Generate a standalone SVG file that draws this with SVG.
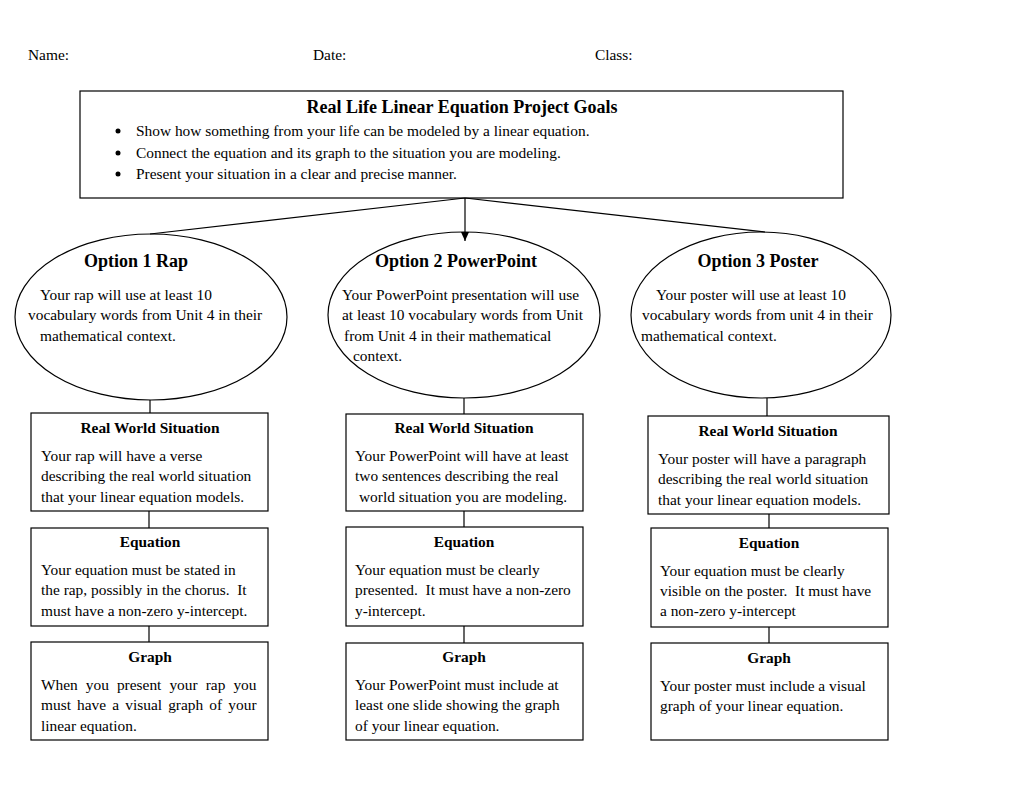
<svg xmlns="http://www.w3.org/2000/svg" width="1024" height="791" viewBox="0 0 1024 791">
<style>
text{font-family:"Liberation Serif","Times New Roman",serif;fill:#000;white-space:pre}
.b{font-size:15.4px}
.h{font-size:15.4px;font-weight:bold;text-anchor:middle}
.t{font-size:18px;font-weight:bold}
.box{fill:#fff;stroke:#000;stroke-width:1.2}
.ln{stroke:#000;stroke-width:1.2;fill:none}
</style>
<defs>
<marker id="arr" markerWidth="10" markerHeight="10" refX="9" refY="5" orient="auto" markerUnits="userSpaceOnUse">
<path d="M0,1 L9,5 L0,9 z" fill="#000"/>
</marker>
</defs>
<rect width="1024" height="791" fill="#fff"/>
<g id="header">
<text class="b" x="28" y="60">Name:</text>
<text class="b" x="313" y="60">Date:</text>
<text class="b" x="595" y="60">Class:</text>
</g>
<g id="goals">
<rect class="box" x="80" y="91" width="763" height="107"/>
<text class="t" x="462" y="113" text-anchor="middle">Real Life Linear Equation Project Goals</text>
<circle cx="118" cy="131" r="2.5"/>
<circle cx="118" cy="153" r="2.5"/>
<circle cx="118" cy="174" r="2.5"/>
<text class="b" x="136" y="136">Show how something from your life can be modeled by a linear equation.</text>
<text class="b" x="136" y="158">Connect the equation and its graph to the situation you are modeling.</text>
<text class="b" x="136" y="179">Present your situation in a clear and precise manner.</text>
</g>
<g id="option1">
<ellipse class="box" cx="151" cy="317" rx="136" ry="83"/>
<text class="t" x="136" y="267" text-anchor="middle">Option 1 Rap</text>
<text class="b" x="40" y="300">Your rap will use at least 10</text>
<text class="b" x="28" y="320">vocabulary words from Unit 4 in their</text>
<text class="b" x="40" y="341">mathematical context.</text>
</g>
<g id="option2">
<ellipse class="box" cx="464" cy="315" rx="136" ry="83"/>
<text class="t" x="456" y="267" text-anchor="middle">Option 2 PowerPoint</text>
<text class="b" x="342" y="300">Your PowerPoint presentation will use</text>
<text class="b" x="342" y="320">at least 10 vocabulary words from Unit</text>
<text class="b" x="344" y="341">from Unit 4 in their mathematical</text>
<text class="b" x="353" y="361">context.</text>
</g>
<g id="option3">
<ellipse class="box" cx="761" cy="315" rx="130" ry="83"/>
<text class="t" x="758" y="267" text-anchor="middle">Option 3 Poster</text>
<text class="b" x="656" y="300">Your poster will use at least 10</text>
<text class="b" x="642" y="320">vocabulary words from unit 4 in their</text>
<text class="b" x="641" y="341">mathematical context.</text>
</g>
<g id="rws1">
<rect class="box" x="31" y="413" width="237" height="98"/>
<text class="h" x="150" y="433">Real World Situation</text>
<text class="b" x="41" y="461">Your rap will have a verse</text>
<text class="b" x="41" y="481">describing the real world situation</text>
<text class="b" x="41" y="502">that your linear equation models.</text>
</g>
<g id="eq1">
<rect class="box" x="31" y="528" width="237" height="98"/>
<text class="h" x="150" y="547">Equation</text>
<text class="b" x="41" y="575">Your equation must be stated in</text>
<text class="b" x="41" y="595">the rap, possibly in the chorus.  It</text>
<text class="b" x="41" y="616">must have a non-zero y-intercept.</text>
</g>
<g id="graph1">
<rect class="box" x="31" y="642" width="237" height="98"/>
<text class="h" x="150" y="662">Graph</text>
<text class="b" x="41" y="690" style="word-spacing:4.2px">When you present your rap you</text>
<text class="b" x="41" y="710" style="word-spacing:2.3px">must have a visual graph of your</text>
<text class="b" x="41" y="731">linear equation.</text>
</g>
<g id="rws2">
<rect class="box" x="346" y="414" width="237" height="97"/>
<text class="h" x="464" y="433">Real World Situation</text>
<text class="b" x="355" y="461">Your PowerPoint will have at least</text>
<text class="b" x="355" y="481">two sentences describing the real</text>
<text class="b" x="359" y="502">world situation you are modeling.</text>
</g>
<g id="eq2">
<rect class="box" x="346" y="527" width="237" height="99"/>
<text class="h" x="464" y="547">Equation</text>
<text class="b" x="355" y="575">Your equation must be clearly</text>
<text class="b" x="355" y="595">presented.  It must have a non-zero</text>
<text class="b" x="355" y="616">y-intercept.</text>
</g>
<g id="graph2">
<rect class="box" x="346" y="643" width="237" height="97"/>
<text class="h" x="464" y="662">Graph</text>
<text class="b" x="355" y="690">Your PowerPoint must include at</text>
<text class="b" x="355" y="710">least one slide showing the graph</text>
<text class="b" x="355" y="731">of your linear equation.</text>
</g>
<g id="rws3">
<rect class="box" x="648" y="416" width="241" height="98"/>
<text class="h" x="768" y="436">Real World Situation</text>
<text class="b" x="658" y="464">Your poster will have a paragraph</text>
<text class="b" x="658" y="484">describing the real world situation</text>
<text class="b" x="658" y="505">that your linear equation models.</text>
</g>
<g id="eq3">
<rect class="box" x="651" y="528" width="237" height="99"/>
<text class="h" x="769" y="548">Equation</text>
<text class="b" x="660" y="576">Your equation must be clearly</text>
<text class="b" x="660" y="596">visible on the poster.  It must have</text>
<text class="b" x="660" y="616">a non-zero y-intercept</text>
</g>
<g id="graph3">
<rect class="box" x="651" y="643" width="237" height="97"/>
<text class="h" x="769" y="663">Graph</text>
<text class="b" x="660" y="691">Your poster must include a visual</text>
<text class="b" x="660" y="711">graph of your linear equation.</text>
</g>
<g id="connectors">
<line class="ln" x1="465" y1="198" x2="150" y2="234"/>
<line class="ln" x1="465" y1="198" x2="765" y2="232"/>
<line class="ln" x1="465" y1="198" x2="465" y2="241" marker-end="url(#arr)"/>
<line class="ln" x1="150" y1="400" x2="150" y2="413"/>
<line class="ln" x1="149" y1="511" x2="149" y2="528"/>
<line class="ln" x1="149" y1="626" x2="149" y2="642"/>
<line class="ln" x1="464" y1="398" x2="464" y2="414"/>
<line class="ln" x1="464" y1="511" x2="464" y2="527"/>
<line class="ln" x1="464" y1="626" x2="464" y2="643"/>
<line class="ln" x1="767" y1="398" x2="767" y2="416"/>
<line class="ln" x1="769" y1="514" x2="769" y2="528"/>
<line class="ln" x1="769" y1="627" x2="769" y2="643"/>
</g>
</svg>
